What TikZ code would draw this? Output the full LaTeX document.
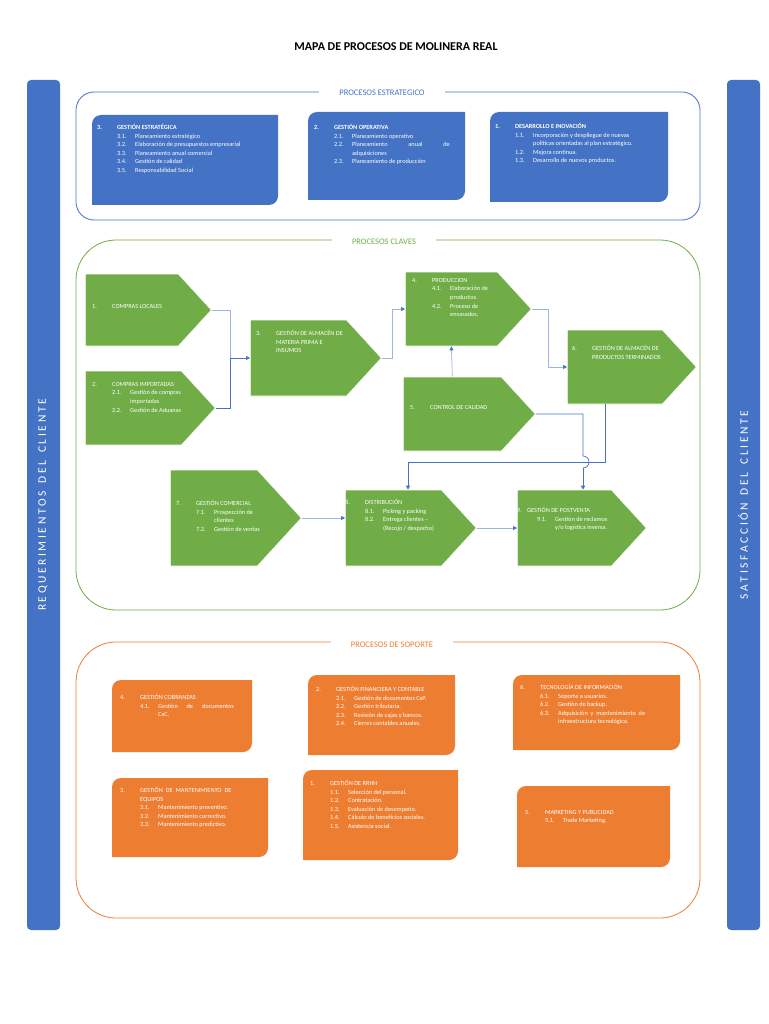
\documentclass[tikz,border=0pt]{standalone}
\usepackage{fontspec}
\setmainfont{Carlito}
\usetikzlibrary{shapes.symbols,arrows.meta}
\definecolor{bblue}{HTML}{4472C4}
\definecolor{ggreen}{HTML}{70AD47}
\definecolor{oorange}{HTML}{ED7D31}
\definecolor{lblue}{HTML}{9DB5E0}
\newcommand\hd[2]{\makebox[20pt][l]{#1}#2}
\newcommand\hdb[2]{\makebox[20pt][l]{\bfseries #1}\textbf{#2}}
\newcommand\sbi[2]{\hspace*{20pt}\makebox[18pt][l]{#1}#2}
\newcommand\cont[1]{\hspace*{38pt}#1}
\newcommand\dbox[5]{\fill[#5] (#1,{(#2+#4)/2}) [rounded corners=9pt] -- (#1,#2) -- ({(#1+#3)/2},#2) [sharp corners] -- (#3,#2) -- (#3,{(#2+#4)/2}) [rounded corners=9pt] -- (#3,#4) -- ({(#1+#3)/2},#4) [sharp corners] -- (#1,#4) -- cycle;}
\begin{document}
\begin{tikzpicture}[x=1pt,y=-1pt,
  txt/.style={text=white,align=left,anchor=north west,inner sep=0pt,font=\fontsize{6.3}{8.6}\selectfont},
  gsig/.style={signal,signal to=east,signal pointer angle=95,fill=ggreen,draw=white,line width=0.6pt,inner sep=0pt,anchor=west},
  frame/.style={rounded corners=#1,line width=0.8pt},
  ttl/.style={fill=white,inner xsep=20pt,inner ysep=1pt,font=\fontsize{8.5}{10}\selectfont},
  conn/.style={draw=bblue,line width=0.7pt,-{Triangle[length=4pt,width=4pt,fill=bblue,color=bblue]}}]
\useasboundingbox (0,0) rectangle (768,1024);
\fill[white] (0,0) rectangle (768,1024);
\node (title) at (396,47) {\fontsize{12}{14}\selectfont\bfseries MAPA DE PROCESOS DE MOLINERA REAL};
% side bars
\fill[bblue,rounded corners=4pt] (27,80) rectangle (60,930);
\fill[bblue,rounded corners=4pt] (727,80) rectangle (760,930);
\node[rotate=90,text=white,font=\fontsize{11.5}{13}\selectfont] (req) at (43,505) {R E Q U E R I M I E N T O S \ \ D E L \ \ C L I E N T E};
\node[rotate=90,text=white,font=\fontsize{11.5}{13}\selectfont] (sat) at (743,505) {S A T I S F A C C I Ó N \ \ D E L \ \ C L I E N T E};
% containers
\draw[bblue,frame=18pt] (76,92) rectangle (700,220);
\node[ttl,text=bblue] (t1) at (382,93) {PROCESOS ESTRATEGICO};
\draw[ggreen,frame=40pt] (76,240) rectangle (700,610);
\node[ttl,text=ggreen] (t2) at (384,242) {PROCESOS CLAVES};
\draw[oorange,frame=40pt] (76,642) rectangle (700,918);
\node[ttl,text=oorange] (t3) at (392,645) {PROCESOS DE SOPORTE};
% diag-rounded boxes
\dbox{92}{115}{278}{205}{bblue}
\dbox{308}{112}{465}{200}{bblue}
\dbox{490}{112}{668}{202}{bblue}
\node[txt] (b3) at (97,124) {\hdb{3.}{GESTIÓN ESTRATÉGICA}\\\sbi{3.1.}{Planeamiento estratégico}\\\sbi{3.2.}{Elaboración de presupuestos empresarial}\\\sbi{3.3.}{Planeamiento anual comercial}\\\sbi{3.4.}{Gestión de calidad}\\\sbi{3.5.}{Responsabilidad Social}};
\node[txt] (b2) at (314,124) {\hdb{2.}{GESTIÓN OPERATIVA}\\\sbi{2.1.}{Planeamiento operativo}\\\sbi{2.2.}{Planeamiento \hspace{18pt} anual \hspace{18pt} de}\\\cont{adquisiciones}\\\sbi{2.3.}{Planeamiento de producción}};
\node[txt] (b1) at (495,123) {\hdb{1.}{DESARROLLO E INOVACIÓN}\\\sbi{1.1.}{Incorporación y despliegue de nuevas}\\\cont{politicas orientadas al plan estratégico.}\\\sbi{1.2.}{Mejora continua.}\\\sbi{1.3.}{Desarrollo de nuevos productos.}};
% green signals
\node[gsig,minimum width=126pt,minimum height=72pt] (g1) at (85,310) {};
\node[gsig,minimum width=130pt,minimum height=74pt] (g2) at (85,408) {};
\node[gsig,minimum width=131pt,minimum height=76pt] (g3) at (250,358) {};
\node[gsig,minimum width=126pt,minimum height=74pt] (g4) at (405,309) {};
\node[gsig,minimum width=132pt,minimum height=74pt] (g5) at (403,414) {};
\node[gsig,minimum width=129pt,minimum height=74pt] (g6) at (567,367) {};
\node[gsig,minimum width=131pt,minimum height=96pt] (g7) at (170,518) {};
\node[gsig,minimum width=131pt,minimum height=76pt] (g8) at (345,528) {};
\node[gsig,minimum width=129pt,minimum height=76pt] (g9) at (517,528) {};
\node[txt] (x1) at (92,304) {\hd{1.}{COMPRAS LOCALES}};
\node[txt] (x2) at (92,382) {\hd{2.}{COMPRAS IMPORTADAS}\\\sbi{2.1.}{Gestión de compras}\\\cont{importadas}\\\sbi{2.2.}{Gestión de Aduanas}};
\node[txt] (x3) at (256,330) {\hd{3.}{GESTIÓN DE ALMACÉN DE}\\\hspace*{20pt}MATERIA PRIMA E\\\hspace*{20pt}INSUMOS};
\node[txt] (x4) at (412,278) {\hd{4.}{PRODUCCION}\\\sbi{4.1.}{Elaboración de}\\\cont{productos.}\\\sbi{4.2.}{Proceso de}\\\cont{envasados.}};
\node[txt] (x5) at (410,405) {\hd{5.}{CONTROL DE CALIDAD}};
\node[txt] (x6) at (572,345) {\hd{6.}{GESTIÓN DE ALMACÉN DE}\\\hspace*{20pt}PRODUCTOS TERMINADOS};
\node[txt] (x7) at (176,500) {\hd{7.}{GESTIÓN COMERCIAL}\\\sbi{7.1.}{Prospección de}\\\cont{clientes}\\\sbi{7.2.}{Gestión de ventas}};
\node[txt] (x8) at (345,499) {\hd{8.}{DISTRIBUCIÓN}\\\sbi{8.1.}{Picking y packing}\\\sbi{8.2.}{Entrega clientes –}\\\cont{(Recojo / despacho)}};
\node[txt] (x9) at (517,507) {\makebox[10pt][l]{9.}GESTIÓN DE POSTVENTA\\\hspace*{20pt}\makebox[18pt][l]{9.1.}Gestión de reclamos\\\hspace*{38pt}y/o logística inversa.};
% connectors
\coordinate (j1) at (230,358);
\coordinate (j2) at (392,309);
\coordinate (j3) at (548,367);
\coordinate (k1) at (605,462);
\coordinate (k2) at (408,462);
\coordinate (h1) at (583,456);
\coordinate (h2) at (583,468);
\draw[lblue,line width=0.7pt] (g1.east) -| (j1);
\draw[bblue,line width=0.7pt] (g2.east) -| (j1);
\draw[conn] (j1) -- (g3.west);
\draw[lblue,line width=0.7pt] (g3.east) -| (j2);
\draw[conn,draw=lblue] (j2) -- (g4.west);
\draw[lblue,line width=0.7pt] (g4.east) -| (j3);
\draw[conn,draw=lblue] (j3) -- (g6.west);
\draw[conn,draw=lblue] (g5.north) -- (g4.south);
\draw[bblue,line width=0.7pt] (g6.south -| k1) -- (k1) -- (k2);
\draw[conn] (k2) -- (k2 |- g8.north);
\draw[bblue,line width=0.7pt] (g5.east) -| (h1) arc[start angle=-90,end angle=90,radius=6];
\draw[conn] (h2) -- (h2 |- g9.north);
\draw[conn,draw=lblue] (g7.east) -- (g7.east -| g8.west);
\draw[conn,draw=lblue] (g8.east) -- (g8.east -| g9.west);
% orange boxes
\dbox{112}{680}{252}{752}{oorange}
\dbox{308}{675}{455}{755}{oorange}
\dbox{513}{675}{680}{750}{oorange}
\dbox{112}{778}{268}{857}{oorange}
\dbox{303}{770}{458}{860}{oorange}
\dbox{517}{786}{670}{867}{oorange}
\node[txt] (o4) at (120,694) {\hd{4.}{GESTIÓN COBRANZAS}\\\sbi{4.1.}{Gestión \hspace{6pt} de \hspace{6pt} documentos}\\\cont{CxC.}};
\node[txt] (o2) at (316,686) {\hd{2.}{GESTIÓN FINANCIERA Y CONTABLE}\\\sbi{2.1.}{Gestión de documentos CxP.}\\\sbi{2.2.}{Gestión tributaria.}\\\sbi{2.3.}{Revisión de cajas y bancos.}\\\sbi{2.4.}{Cierres contables anuales.}};
\node[txt] (o6) at (520,684) {\hd{6.}{TECNOLOGÍA DE INFORMACIÓN}\\\sbi{6.1.}{Soporte a usuarios.}\\\sbi{6.2.}{Gestión de backup.}\\\sbi{6.3.}{Adquisición \ y \ mantenimiento \ de}\\\cont{infraestructura tecnológica.}};
\node[txt] (o3) at (120,787) {\hd{3.}{GESTIÓN \ DE \ MANTENIMIENTO \ DE}\\\hspace*{20pt}EQUIPOS\\\sbi{3.1.}{Mantenimiento preventivo.}\\\sbi{3.2.}{Mantenimiento correctivo.}\\\sbi{3.3.}{Mantenimiento predictivo.}};
\node[txt] (o1) at (310,780) {\hd{1.}{GESTIÓN DE RRHH}\\\sbi{1.1.}{Selección del personal.}\\\sbi{1.2.}{Contratación.}\\\sbi{1.3.}{Evaluación de desempeño.}\\\sbi{1.4.}{Cálculo de beneficios sociales.}\\\sbi{1.5.}{Asistencia social.}};
\node[txt] (o5) at (525,810) {\hd{5.}{MARKETING Y PUBLICIDAD}\\\sbi{5.1.}{Trade Marketing.}};
\end{tikzpicture}
\end{document}
